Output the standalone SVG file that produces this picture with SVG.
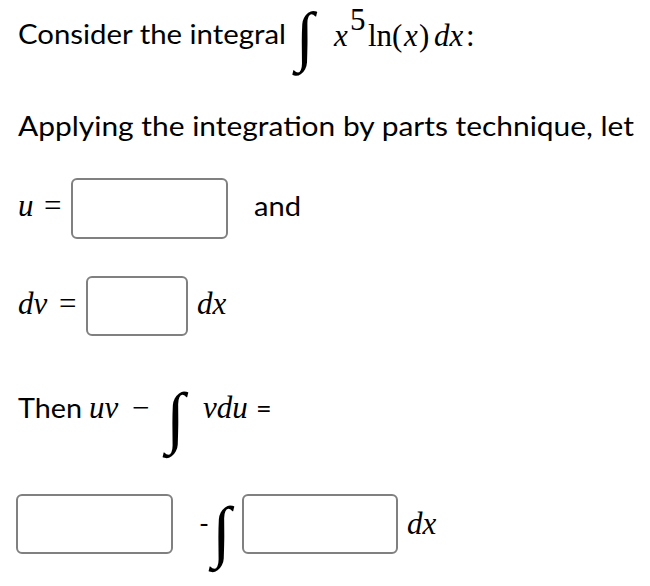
<svg xmlns="http://www.w3.org/2000/svg" width="650" height="586" viewBox="0 0 650 586">
<style>
.t{font-family:Lato,"Noto Sans",sans-serif;font-size:27px;fill:#000}
.m{font-family:"Liberation Serif","DejaVu Serif",serif;font-style:italic;font-size:31px;fill:#000}
.r{font-family:"Liberation Serif","DejaVu Serif",serif;font-size:31px;fill:#000}
.i{font-family:"Liberation Serif",serif;font-style:italic;fill:#000}
.b{fill:#fff;stroke:#808080;stroke-width:2}
</style>
<rect width="650" height="586" fill="#fff"/>
<text class="t" x="18" y="44" textLength="268" lengthAdjust="spacingAndGlyphs">Consider the integral</text>
<text class="i" x="296" y="58" font-size="66">∫</text>
<text class="m" x="334" y="46">x</text>
<text class="r" x="350" y="30" font-size="20">5</text>
<text class="r" x="368" y="46">ln(</text>
<text class="m" x="404" y="46">x</text>
<text class="r" x="419" y="46">)</text>
<text class="m" x="434" y="46">dx</text>
<text class="r" x="466" y="46">:</text>
<text class="t" x="18" y="136" textLength="616" lengthAdjust="spacingAndGlyphs">Applying the integration by parts technique, let</text>
<text class="m" x="18" y="216">u</text>
<text class="r" x="44" y="216">=</text>
<rect class="b" x="72" y="179" width="155" height="59" rx="5"/>
<text class="t" x="254" y="216" textLength="47" lengthAdjust="spacingAndGlyphs">and</text>
<text class="m" x="18" y="314">dv</text>
<text class="r" x="59" y="314">=</text>
<rect class="b" x="87" y="277" width="100" height="58" rx="5"/>
<text class="m" x="197" y="314">dx</text>
<text class="t" x="18" y="418" textLength="64" lengthAdjust="spacingAndGlyphs">Then</text>
<text class="m" x="89" y="418">uv</text>
<text class="r" x="132" y="418">−</text>
<text class="i" x="166" y="440" font-size="68">∫</text>
<text class="m" x="203" y="418">vdu</text>
<text class="t" x="256" y="418" font-size="22">=</text>
<rect class="b" x="17" y="495" width="155" height="58" rx="5"/>
<text class="t" x="199" y="533">-</text>
<text class="i" x="212" y="554" font-size="68">∫</text>
<rect class="b" x="243" y="495" width="154" height="58" rx="5"/>
<text class="m" x="407" y="534">dx</text>
</svg>
